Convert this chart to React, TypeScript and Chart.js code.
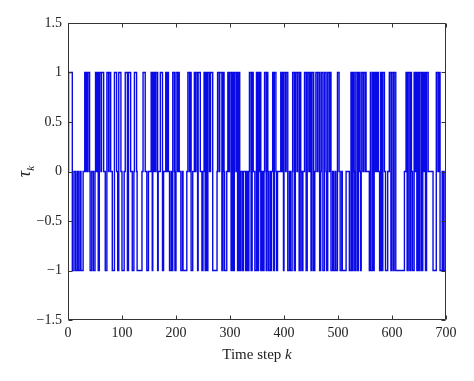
import React, { useEffect, useRef } from "react";
import { Chart, registerables } from "chart.js";

Chart.register(...registerables);

const xTicks = [0, 100, 200, 300, 400, 500, 600, 700];
const yTicks = [-1.5, -1, -0.5, 0, 0.5, 1, 1.5];
const kEnd = 700;

// time steps at which tau_k switches, and the level it switches to
const changeK = [
  0, 1, 8, 11, 14, 17, 19, 22, 24, 28,
  31, 33, 34, 36, 37, 40, 41, 44, 47, 50,
  51, 53, 54, 56, 58, 61, 62, 66, 69, 72,
  75, 76, 79, 82, 86, 90, 92, 94, 98, 100,
  104, 106, 110, 112, 116, 119, 122, 123, 127, 128,
  137, 139, 143, 146, 149, 154, 156, 157, 159, 160,
  162, 163, 166, 167, 171, 175,
  177, 181, 183, 184, 186, 188, 191, 192, 194, 197,
  198, 200, 203, 204, 206, 209, 212, 213, 220, 222,
  225, 226, 228, 231, 234, 236, 237, 240, 241, 245,
  248, 250, 252, 254, 256, 258, 259, 262, 264, 268,
  276, 277, 280, 281, 285, 287, 289, 290, 294, 296,
  298, 299, 302, 304, 306, 308, 311, 312, 314, 316,
  318, 320, 323, 325, 329, 331, 333, 335, 336, 339,
  341, 343, 346,
  349, 351, 353, 355, 356, 357, 359, 361, 363, 364,
  367, 368, 370, 371, 374, 375, 377, 379, 381, 382,
  385, 386, 388, 394, 396, 397, 399, 400, 403, 404,
  407, 410, 412, 415, 416, 419, 421, 424, 425, 428,
  430, 431, 433, 435, 438, 441, 443, 446, 448, 450,
  452, 455, 457, 459, 462, 463, 466, 468, 469, 472,
  475, 478, 479, 481, 484, 485, 487, 490, 492, 495,
  496, 499, 502, 504, 507, 508, 515, 521,
  524, 526, 528, 530, 531, 533, 536, 538, 540, 542,
  543, 546, 547, 550, 551, 552, 558, 560, 561, 564,
  566, 567, 569, 570, 572, 573, 575, 577, 579, 581,
  583, 586, 588, 592, 595, 598, 600, 603, 604, 607,
  623, 626, 628, 630, 633, 635, 636, 638, 641, 643,
  644, 646, 648, 650, 652, 655, 657, 659, 660, 662,
  664, 667, 676, 682, 685, 687, 689, 693, 695, 698,
];
const changeLevel = [
  0, 1, -1, 0, -1, 0, -1, 0, -1, 0,
  1, 0, 1, 0, 1, 0, -1, 0, -1, 0,
  1, 0, 1, -1, 1, 0, 1, 0, -1, 1,
  0, 1, 0, -1, 1, 0, -1, 1, 0, -1,
  0, 1, -1, 1, 0, -1, 0, 1, 0, -1,
  0, 1, 0, -1, 0, 1, -1, 1, 0, 1,
  0, 1, -1, 0, 1, -1,
  0, 1, 0, 1, 0, -1, 0, -1, 1, 0,
  -1, 1, 0, 1, 0, -1, 0, -1, 0, 1,
  0, 1, -1, 0, 1, 0, 1, -1, 1, 0,
  -1, 0, 1, -1, 1, -1, 1, 0, 1, -1,
  0, 1, 0, 1, -1, 1, 0, -1, 0, 1,
  0, 1, -1, 1, -1, 1, 0, 1, -1, 1,
  -1, 0, -1, 0, -1, 0, -1, 0, 1, -1,
  1, 0, -1,
  1, -1, 1, 0, 1, -1, 0, -1, 0, 1,
  -1, 1, 0, -1, 0, -1, 0, 1, -1, 1,
  0, -1, 0, 1, 0, 1, -1, 1, 0, 1,
  -1, 0, -1, 0, 1, -1, 1, 0, 1, -1,
  1, 0, -1, 0, 1, -1, 1, 0, 1, -1,
  1, -1, 0, 1, 0, 1, -1, 0, 1, -1,
  1, 0, -1, 1, 0, 1, -1, 0, -1, 0,
  -1, 1, 0, -1, 0, -1, 0, -1,
  1, -1, 1, 0, -1, 1, -1, 1, 0, -1,
  1, 0, 1, 0, 1, 0, -1, 1, -1, 1,
  -1, 1, 0, 1, 0, 1, 0, -1, 1, -1,
  1, 0, -1, 0, 1, -1, 1, -1, 1, -1,
  0, 1, -1, 1, -1, 1, 0, -1, 1, 0,
  1, -1, 1, -1, 1, -1, 1, 0, 1, -1,
  1, 0, -1, 1, 0, 1, -1, 0, -1, 0,
];

const SERIF = "'Liberation Serif', 'DejaVu Serif', serif";
const TEXT = "#222";

function fmt(v: number): string {
  return v < 0 ? "\u2212" + String(Math.abs(v)) : String(v);
}

const framePlugin = {
  id: "matlabFrame",
  afterDraw(chart: any) {
    const { ctx, chartArea, scales } = chart;
    const { left, right, top, bottom } = chartArea;
    const xs = scales.x;
    const ys = scales.y;
    ctx.save();
    ctx.strokeStyle = "#333";
    ctx.lineWidth = 1;
    const L = Math.round(left) + 0.5;
    const R = Math.round(right) - 0.5;
    const T = Math.round(top) + 0.5;
    const B = Math.round(bottom) - 0.5;
    ctx.beginPath();
    ctx.rect(L, T, R - L, B - T);
    ctx.stroke();
    const tl = 4;
    ctx.beginPath();
    for (const v of xTicks) {
      const px = Math.round(xs.getPixelForValue(v)) + 0.5;
      ctx.moveTo(px, B);
      ctx.lineTo(px, B - tl);
      ctx.moveTo(px, T);
      ctx.lineTo(px, T + tl);
    }
    for (const v of yTicks) {
      const py = Math.round(ys.getPixelForValue(v)) + 0.5;
      ctx.moveTo(L, py);
      ctx.lineTo(L + tl, py);
      ctx.moveTo(R, py);
      ctx.lineTo(R - tl, py);
    }
    ctx.stroke();

    // x axis title: "Time step k" with italic k
    ctx.fillStyle = TEXT;
    ctx.textBaseline = "middle";
    ctx.textAlign = "left";
    const normal = "15px " + SERIF;
    const italic = "italic 15px " + SERIF;
    ctx.font = normal;
    const w1 = ctx.measureText("Time step ").width;
    ctx.font = italic;
    const w2 = ctx.measureText("k").width;
    const cx = (left + right) / 2;
    const x0 = cx - (w1 + w2) / 2;
    ctx.font = normal;
    ctx.fillText("Time step ", x0, 355);
    ctx.font = italic;
    ctx.fillText("k", x0 + w1, 355);

    // y axis title: tau_k, rotated
    ctx.save();
    ctx.translate(27, (top + bottom) / 2);
    ctx.rotate(-Math.PI / 2);
    ctx.font = "italic 18px " + SERIF;
    const wt = ctx.measureText("\u03c4").width;
    ctx.font = "italic 11px " + SERIF;
    const wk = ctx.measureText("k").width;
    const sx = -(wt + wk) / 2;
    ctx.textBaseline = "alphabetic";
    ctx.font = "italic 18px " + SERIF;
    ctx.fillText("\u03c4", sx, 3);
    ctx.font = "italic 11px " + SERIF;
    ctx.fillText("k", sx + wt, 7);
    ctx.restore();

    ctx.restore();
  },
};

export default function App() {
  const ref = useRef<HTMLCanvasElement | null>(null);

  useEffect(() => {
    if (!ref.current) return;
    const points = changeK.map((k, i) => ({ x: k, y: changeLevel[i] }));
    points.push({ x: kEnd, y: changeLevel[changeLevel.length - 1] });

    const tickFont = { family: SERIF, size: 14 };
    const chart = new Chart(ref.current, {
      type: "line",
      data: {
        datasets: [
          {
            data: points,
            stepped: true,
            borderColor: "#0a0ae6",
            borderWidth: 1.4,
            pointRadius: 0,
            fill: false,
          },
        ],
      },
      options: {
        responsive: false,
        animation: false,
        parsing: false,
        normalized: true,
        layout: { padding: { left: 0, right: 28, top: 23, bottom: 0 } },
        plugins: { legend: { display: false }, tooltip: { enabled: false } },
        scales: {
          x: {
            type: "linear",
            min: 0,
            max: 700,
            afterBuildTicks: (s: any) => {
              s.ticks = xTicks.map((v) => ({ value: v }));
            },
            afterFit: (s: any) => {
              s.height = 61;
            },
            grid: { display: false, drawTicks: false },
            border: { display: false },
            ticks: {
              font: tickFont,
              color: TEXT,
              padding: 5,
              maxRotation: 0,
              autoSkip: false,
              callback: (v: any) => fmt(Number(v)),
            },
          },
          y: {
            type: "linear",
            min: -1.5,
            max: 1.5,
            afterBuildTicks: (s: any) => {
              s.ticks = yTicks.map((v) => ({ value: v }));
            },
            afterFit: (s: any) => {
              s.width = 68;
            },
            grid: { display: false, drawTicks: false },
            border: { display: false },
            ticks: {
              font: tickFont,
              color: TEXT,
              padding: 6,
              autoSkip: false,
              callback: (v: any) => fmt(Number(v)),
            },
          },
        },
      },
      plugins: [framePlugin],
    } as any);
    return () => chart.destroy();
  }, []);

  return (
    <div style={{ position: "absolute", left: 0, top: 0, width: 474, height: 381, background: "#fff" }}>
      <canvas ref={ref} width={474} height={381} style={{ display: "block" }} />
    </div>
  );
}
